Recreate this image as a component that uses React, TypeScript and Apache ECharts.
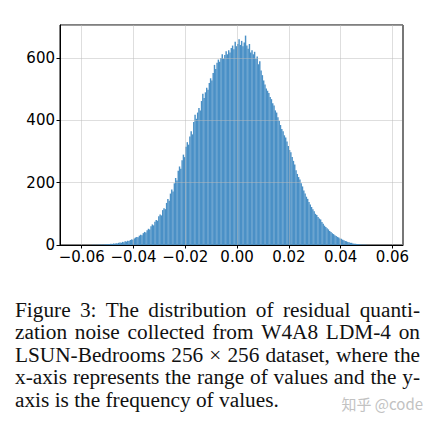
import React, { useEffect, useRef } from "react";
import * as echarts from "echarts";

// Histogram bins: start of first bin and bin width (value units)
const BIN_START = -0.062;
const BIN_WIDTH = 0.0005;
// Counts per bin
const COUNTS: number[] = [
  0, 0, 0, 0, 0, 0, 0, 0, 0, 0, 0, 0, 1, 0, 1, 0, 1, 1, 1, 2,
  1, 2, 2, 3, 2, 3, 4, 3, 5, 4, 6, 5, 7, 8, 7, 10, 9, 12, 11, 14,
  13, 16, 18, 17, 21, 24, 26, 25, 30, 33, 31, 38, 42, 40, 47, 52, 50, 60, 66, 63,
  75, 80, 78, 92, 98, 95, 112, 118, 115, 135, 148, 142, 165, 178, 172, 198, 215, 207, 238, 252,
  245, 272, 290, 282, 315, 330, 322, 348, 365, 355, 395, 418, 405, 425, 440, 432, 462, 485, 472, 490,
  505, 498, 520, 535, 528, 552, 578, 565, 585, 595, 588, 600, 612, 598, 610, 622, 612, 625, 618, 632,
  640, 628, 652, 638, 645, 660, 642, 655, 638, 650, 672, 640, 630, 645, 618, 625, 612, 620, 598, 605,
  580, 590, 560, 545, 528, 515, 502, 495, 488, 475, 468, 455, 448, 432, 425, 410, 398, 385, 372, 365,
  352, 345, 332, 318, 305, 298, 282, 270, 258, 240, 228, 218, 210, 198, 188, 175, 165, 155, 148, 138,
  130, 122, 115, 108, 100, 96, 90, 85, 82, 74, 68, 62, 58, 54, 50, 45, 42, 38, 35, 31,
  29, 26, 24, 21, 20, 17, 15, 13, 12, 10, 9, 7, 7, 5, 4, 4, 3, 3, 2, 2,
  1, 1, 1, 1, 0, 0, 0, 0, 0, 0, 0, 0, 0, 0, 0, 0, 0, 0, 0, 0,
];

const X_MIN = -0.0684;
const X_MAX = 0.0641;
const X_STEP = 0.02;
const Y_MIN = 0;
const Y_MAX = 706;
const Y_STEP = 200;

const CAPTION_LINES: string[] = [
  "Figure 3: The distribution of residual quanti-",
  "zation noise collected from W4A8 LDM-4 on",
  "LSUN-Bedrooms 256 \u00d7 256 dataset, where the",
  "x-axis represents the range of values and the y-",
  "axis is the frequency of values.",
];
const WATERMARK = "知乎 @code";

const CAP_FONT_SIZE = 21.3;
const CAP_FONT_FAMILY = '"Liberation Serif", "Times New Roman", serif';
const CAP_LEFT = 15;
const CAP_RIGHT = 420;
const CAP_FIRST_CENTER = 309.5;
const CAP_LINE_GAP = 22.6;

function fmtX(v: number): string {
  if (Math.abs(v) < 1e-9) return "0.00";
  return (v < 0 ? "\u2212" : "") + Math.abs(v).toFixed(2);
}

function buildCaption(): any[] {
  const canvas = document.createElement("canvas");
  const ctx = canvas.getContext("2d")!;
  ctx.font = `${CAP_FONT_SIZE}px ${CAP_FONT_FAMILY}`;
  const els: any[] = [];
  CAPTION_LINES.forEach((line, li) => {
    const words = line.split(" ");
    const widths = words.map((w) => ctx.measureText(w).width);
    const total = widths.reduce((a, b) => a + b, 0);
    const isLast = li === CAPTION_LINES.length - 1;
    const space = ctx.measureText(" ").width;
    const gap = isLast || words.length < 2
      ? space
      : Math.max(2, (CAP_RIGHT - CAP_LEFT - total) / (words.length - 1));
    let x = CAP_LEFT;
    const cy = CAP_FIRST_CENTER + li * CAP_LINE_GAP;
    words.forEach((w, wi) => {
      els.push({
        type: "text",
        x,
        y: cy,
        style: {
          text: w,
          fill: "#111",
          font: `${CAP_FONT_SIZE}px ${CAP_FONT_FAMILY}`,
          textAlign: "left",
          textVerticalAlign: "middle",
        },
        silent: true,
      });
      x += widths[wi] + gap;
    });
  });
  return els;
}

export default function App() {
  const ref = useRef<HTMLDivElement>(null);
  useEffect(() => {
    if (!ref.current) return;
    const chart = echarts.init(ref.current, undefined, { renderer: "svg" });
    const data = COUNTS.map((c, i) => [
      BIN_START + i * BIN_WIDTH,
      BIN_START + (i + 1) * BIN_WIDTH,
      c,
    ]);
    const labelStyle = {
      fontFamily: '"DejaVu Sans", sans-serif',
      fontSize: 15,
      color: "#000",
    };
    const gridLine = {
      show: true,
      lineStyle: { color: "rgba(185,185,185,0.6)", width: 0.8 },
    };
    chart.setOption({
      animation: false,
      backgroundColor: "#fff",
      grid: {
        left: 60,
        top: 25,
        right: 32,
        bottom: 181,
        show: true,
        borderColor: "#000",
        borderWidth: 1,
        backgroundColor: "transparent",
      },
      xAxis: {
        type: "value",
        min: X_MIN,
        max: X_MAX,
        minInterval: X_STEP,
        maxInterval: X_STEP,
        splitNumber: 6,
        z: 3,
        axisLine: { show: true, onZero: false, lineStyle: { color: "#000", width: 1 } },
        axisTick: { show: true, length: 3.5, lineStyle: { color: "#000" } },
        axisLabel: {
          ...labelStyle,
          margin: 4,
          showMinLabel: false,
          showMaxLabel: false,
          formatter: (v: number) => fmtX(v),
        },
        splitLine: gridLine,
      },
      yAxis: {
        type: "value",
        min: Y_MIN,
        max: Y_MAX,
        minInterval: Y_STEP,
        maxInterval: Y_STEP,
        z: 3,
        axisLine: { show: true, onZero: false, lineStyle: { color: "#000", width: 1 } },
        axisTick: { show: true, length: 3.5, lineStyle: { color: "#000" } },
        axisLabel: {
          ...labelStyle,
          margin: 5,
          showMaxLabel: false,
          formatter: (v: number) => (v % Y_STEP === 0 ? String(v) : ""),
        },
        splitLine: gridLine,
      },
      series: [
        {
          type: "custom",
          coordinateSystem: "cartesian2d",
          encode: { x: [0, 1], y: 2 },
          data,
          renderItem: (params: any, api: any) => {
            const p0 = api.coord([api.value(0), api.value(2)]);
            const p1 = api.coord([api.value(1), 0]);
            return {
              type: "rect",
              shape: {
                x: p0[0],
                y: p0[1],
                width: p1[0] - p0[0] + 0.15,
                height: p1[1] - p0[1],
              },
              style: { fill: "#4a90c6" },
            };
          },
        },
      ],
      graphic: [
        {
          type: "line",
          shape: { x1: 403, y1: 25, x2: 403, y2: 245 },
          style: { stroke: "#777", lineWidth: 2 },
          z: 10,
          silent: true,
        },
        ...buildCaption(),
        {
          type: "text",
          right: 12,
          top: 396,
          style: {
            text: WATERMARK,
            fill: "#c2c2c2",
            font: '15px "Noto Sans CJK SC", sans-serif',
          },
          silent: true,
        },
      ],
    });
    return () => chart.dispose();
  }, []);
  return (
    <div
      ref={ref}
      style={{ position: "fixed", left: 0, top: 0, width: 435, height: 426, background: "#fff" }}
    />
  );
}
